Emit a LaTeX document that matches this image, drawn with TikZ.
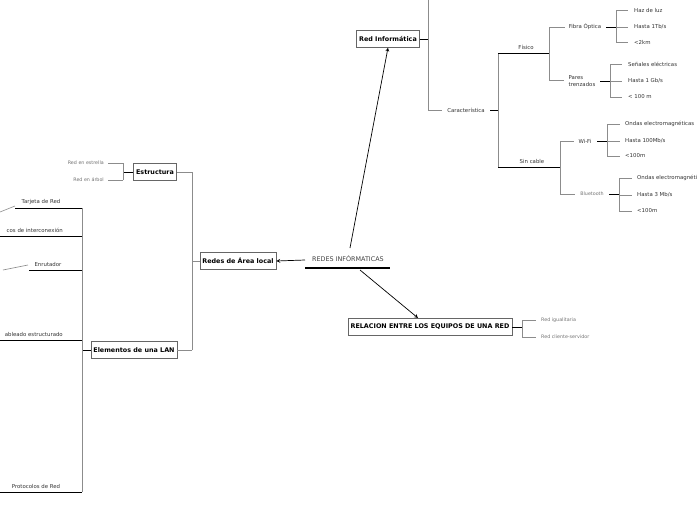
\documentclass[tikz,border=0pt]{standalone}
\usepackage{fontspec}
\setmainfont{DejaVu Sans}
\begin{document}
\begin{tikzpicture}[x=1pt,y=-1pt,
 lf/.style={font=\fontsize{5.4}{6.4}\selectfont, inner sep=1pt, text=black!80},
 gl/.style={font=\fontsize{4.8}{5.4}\selectfont, inner sep=1pt, text=black!55},
 bx/.style={draw=black!60, font=\bfseries\fontsize{6.4}{7.4}\selectfont, inner sep=2.5pt, minimum height=17},
 ln/.style={draw=black!45, line width=0.6pt},
 dk/.style={draw=black, line width=0.8pt},
 ar/.style={draw=black, line width=0.7pt, -stealth}]
\useasboundingbox (0,0) rectangle (697,520);
% center
\node[font=\fontsize{6.4}{7.4}\selectfont, text=black!75] (c) at (348,259) {REDES INFÓRMATICAS};
\draw[line width=1.4pt] (305,268) -- (390,268);
\node[bx] (ri) at (388,39) {Red Informática};
\node[bx] (rel) at (430,327) {RELACION ENTRE LOS EQUIPOS DE UNA RED};
\node[bx] (ral) at (238,261) {Redes de Área local};
\node[bx] (est) at (155,172) {Estructura};
\node[bx] (ele) at (134,350) {Elementos de una LAN};
\coordinate (c1) at (350,248); \coordinate (c2) at (360,270); \coordinate (c3) at (305,260);
\draw[ar] (c1) -- (ri.south);
\draw[ar] (c2) -- (418,318);
\draw[ar] (c3) -- (ral.east);
% Red informatica tree
\draw[dk] (ri.east) -- (428,39);
\draw[ln] (428,0) -- (428,110) -- (442,110);
\node[lf] (car) at (466,110) {Característica};
\draw[dk] (490,110) -- (498,110);
\draw[ln] (498,53) -- (498,167);
\node[lf] (fis) at (526,47) {Físico};
\draw[dk] (498,53) -- (549,53);
\node[lf] (sc) at (532,161) {Sin cable};
\draw[dk] (498,167) -- (560,167);
\draw[ln] (549,27) -- (549,80);
\draw[ln] (549,27) -- (565,27); \draw[ln] (549,80) -- (564,80);
\node[lf] (fo) at (585,27) {Fibra Óptica};
\node[lf, align=left] (pt) at (582,81) {Pares\\trenzados};
\draw[dk] (606,27) -- (616,27); \draw[ln] (616,10) -- (616,42);
\foreach \y/\t in {10/{Haz de luz}, 27/{Hasta 1Tb/s}, 42/{<2km}}{
 \draw[ln] (616,\y) -- (628,\y); \node[lf, anchor=west] at (633,\y) {\t};}
\draw[dk] (600,81) -- (610,81); \draw[ln] (610,64) -- (610,97);
\foreach \y/\t in {64/{Señales eléctricas}, 81/{Hasta 1 Gb/s}, 97/{< 100 m}}{
 \draw[ln] (610,\y) -- (622,\y); \node[lf, anchor=west] at (627,\y) {\t};}
\draw[ln] (560,141) -- (560,194);
\draw[ln] (560,141) -- (574,141); \draw[ln] (560,194) -- (575,194);
\node[lf] (wf) at (585,141) {Wi-Fi};
\node[gl] (bt) at (592,194) {Bluetooth};
\draw[dk] (597,141) -- (607,141); \draw[ln] (607,124) -- (607,156);
\foreach \y/\t in {124/{Ondas electromagnéticas}, 141/{Hasta 100Mb/s}, 156/{<100m}}{
 \draw[ln] (607,\y) -- (620,\y); \node[lf, anchor=west] at (624,\y) {\t};}
\draw[dk] (609,194) -- (619,194); \draw[ln] (619,178) -- (619,211);
\foreach \y/\t in {178/{Ondas electromagnéticas}, 195/{Hasta 3 Mb/s}, 211/{<100m}}{
 \draw[ln] (619,\y) -- (632,\y); \node[lf, anchor=west] at (636,\y) {\t};}
% relacion
\draw[dk] (rel.east) -- (522,327); \draw[ln] (522,320) -- (522,337);
\draw[ln] (522,320) -- (536,320); \draw[ln] (522,337) -- (536,337);
\node[gl, anchor=west] at (540,320) {Red igualitaria};
\node[gl, anchor=west] at (540,337) {Red cliente-servidor};
% redes area local
\draw[ln] (ral.west) -- (192,261);
\draw[ln] (192,172) -- (192,350);
\draw[ln] (192,172) -- (est.east); \draw[ln] (192,350) -- (ele.east);
\draw[dk] (est.west) -- (123,172); \draw[ln] (123,163) -- (123,180);
\draw[ln] (123,163) -- (108,163); \draw[ln] (123,180) -- (108,180);
\node[gl, anchor=east] at (105,163) {Red en estrella};
\node[gl, anchor=east] at (105,180) {Red en árbol};
\draw[dk] (ele.west) -- (82,350);
\draw[ln] (82,208) -- (82,492);
\node[lf] at (41,202) {Tarjeta de Red};
\draw[dk] (15,208) -- (82,208); \draw[ln] (0,212) -- (15,206);
\node[lf, anchor=east] at (64,230) {cos de interconexión};
\draw[dk] (0,236) -- (82,236);
\node[lf] at (48,264) {Enrutador};
\draw[dk] (29,270) -- (82,270); \draw[ln] (3,270) -- (28,265);
\node[lf, anchor=east] at (64,334) {ableado estructurado};
\draw[dk] (0,340) -- (82,340);
\node[lf] at (36,486) {Protocolos de Red};
\draw[dk] (0,492) -- (82,492);
\end{tikzpicture}
\end{document}
